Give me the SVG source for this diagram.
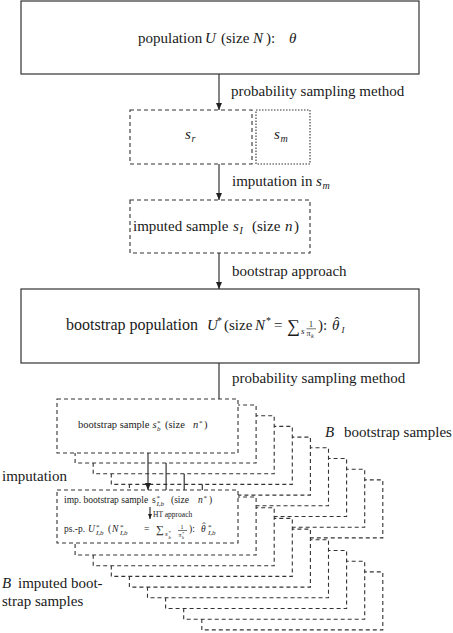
<svg xmlns="http://www.w3.org/2000/svg" width="453" height="633" viewBox="0 0 453 633" font-size="15">
<style>
.t{font-family:"Liberation Serif","DejaVu Serif",serif;fill:#1a1a1a}
.i{font-style:italic}
.box{fill:#fff;stroke:#333;stroke-width:1.2}
.dash{fill:#fff;stroke:#333;stroke-width:1.1;stroke-dasharray:4 3}
.dot{fill:#fff;stroke:#333;stroke-width:1.1;stroke-dasharray:1.5 1.5}
.conn{stroke:#333;stroke-width:1.2;fill:none}
.bar{stroke:#1a1a1a;stroke-width:0.6}
</style>
<defs>
<marker id="ah" markerWidth="7" markerHeight="6" refX="7" refY="3" orient="auto" markerUnits="userSpaceOnUse"><path d="M0,0 L7,3 L0,6 z" fill="#222"/></marker>
<marker id="ahs" markerWidth="5" markerHeight="4" refX="5" refY="2" orient="auto" markerUnits="userSpaceOnUse"><path d="M0,0 L5,2 L0,4 z" fill="#222"/></marker>
</defs>

<g id="population">
<rect class="box" x="21" y="1" width="398" height="73"/>
<text class="t" y="42.5"><tspan x="138">population</tspan><tspan x="205" class="i">U</tspan><tspan x="221">(size</tspan><tspan x="253" class="i">N</tspan><tspan x="266">):</tspan><tspan x="289" class="i">θ</tspan></text>
</g>

<g id="sample-r">
<rect class="dash" x="130" y="110" width="122" height="54"/>
<text class="t"><tspan x="185" y="139" class="i">s</tspan><tspan x="191.5" y="142" class="i" font-size="10">r</tspan></text>
</g>
<g id="sample-m">
<rect class="dot" x="256" y="110" width="54" height="54"/>
<text class="t"><tspan x="274" y="139" class="i">s</tspan><tspan x="280.5" y="142" class="i" font-size="10">m</tspan></text>
</g>

<g id="imputed-sample">
<rect class="dash" x="130" y="200" width="180" height="53"/>
<text class="t" y="231"><tspan x="133">imputed sample</tspan><tspan x="233" class="i">s</tspan><tspan x="239.5" y="234" class="i" font-size="10">I</tspan><tspan x="252" y="231">(size</tspan><tspan x="285" class="i">n</tspan><tspan x="294">)</tspan></text>
</g>

<g id="bootstrap-population">
<rect class="box" x="21" y="289" width="398" height="74"/>
<text class="t" y="330"><tspan x="66" font-size="16">bootstrap population</tspan><tspan x="207" class="i">U</tspan><tspan x="217" y="324" font-size="10">*</tspan><tspan x="224" y="330">(size</tspan><tspan x="255" class="i">N</tspan><tspan x="266" y="324" font-size="10">*</tspan><tspan x="274" y="330">=</tspan><tspan x="287" y="332" font-size="18">∑</tspan><tspan x="301" y="334" class="i" font-size="9">s</tspan></text>
<text class="t" x="311" y="327" font-size="8" text-anchor="middle">1</text>
<line class="bar" x1="306.5" y1="328.8" x2="316" y2="328.8"/>
<text class="t"><tspan x="306.5" y="336" font-size="8">π</tspan><tspan x="311" y="337.5" class="i" font-size="6">k</tspan></text>
<text class="t" y="330"><tspan x="318">):</tspan><tspan x="332" class="i">θ</tspan><tspan x="341.5" y="333" class="i" font-size="9">I</tspan></text>
<text class="t" x="337" y="327" font-size="15" text-anchor="middle">ˆ</text>
</g>

<g id="bootstrap-samples">
<rect class="dash" x="201.8" y="479.9" width="181" height="58"/>
<rect class="dash" x="183.7" y="469.2" width="181" height="58"/>
<rect class="dash" x="165.6" y="458.5" width="181" height="58"/>
<rect class="dash" x="147.5" y="447.8" width="181" height="58"/>
<rect class="dash" x="129.4" y="437.1" width="181" height="58"/>
<rect class="dash" x="111.3" y="426.4" width="181" height="58"/>
<rect class="dash" x="93.2" y="415.7" width="181" height="58"/>
<rect class="dash" x="75.1" y="405" width="181" height="58"/>
<g id="bootstrap-sample-1">
<rect class="dash" x="57" y="399" width="181" height="54"/>
<text class="t" font-size="10.5" y="428"><tspan x="78">bootstrap sample</tspan><tspan x="152.5" class="i">s</tspan><tspan x="157" y="424.5" font-size="7">*</tspan><tspan x="157" y="431" class="i" font-size="7">b</tspan><tspan x="165" y="428">(size</tspan><tspan x="193" class="i">n</tspan><tspan x="199" y="424.5" font-size="7">*</tspan><tspan x="204" y="428">)</tspan></text>
</g>
</g>

<g id="connectors">
<line class="conn" x1="219" y1="74" x2="219" y2="110" marker-end="url(#ah)"/>
<line class="conn" x1="219" y1="164" x2="219" y2="200" marker-end="url(#ah)"/>
<line class="conn" x1="219" y1="253" x2="219" y2="289" marker-end="url(#ah)"/>
<line class="conn" x1="219" y1="363" x2="219" y2="399"/>
<line class="conn" x1="148" y1="453" x2="148" y2="490" marker-end="url(#ah)"/>
<line class="conn" x1="166.1" y1="463" x2="166.1" y2="497"/>
<line class="conn" x1="184.2" y1="473.7" x2="184.2" y2="507.7"/>
<line class="conn" x1="202.3" y1="484.4" x2="202.3" y2="518.4"/>
<line class="conn" x1="220.4" y1="495.1" x2="220.4" y2="529.1"/>
<line class="conn" x1="238.5" y1="505.8" x2="238.5" y2="539.8"/>
<line class="conn" x1="256.6" y1="516.5" x2="256.6" y2="550.5"/>
<line class="conn" x1="274.7" y1="527.2" x2="274.7" y2="561.2"/>
<line class="conn" x1="292.8" y1="537.9" x2="292.8" y2="571.9"/>
</g>

<g id="imputed-bootstrap-samples">
<rect class="dash" x="201.8" y="571.9" width="181" height="58"/>
<rect class="dash" x="183.7" y="561.2" width="181" height="58"/>
<rect class="dash" x="165.6" y="550.5" width="181" height="58"/>
<rect class="dash" x="147.5" y="539.8" width="181" height="58"/>
<rect class="dash" x="129.4" y="529.1" width="181" height="58"/>
<rect class="dash" x="111.3" y="518.4" width="181" height="58"/>
<rect class="dash" x="93.2" y="507.7" width="181" height="58"/>
<rect class="dash" x="75.1" y="497" width="181" height="58"/>
<g id="imputed-bootstrap-sample-1">
<rect class="dash" x="57" y="490" width="181" height="53"/>
<text class="t" font-size="9.5" y="503"><tspan x="64">imp.</tspan><tspan x="83.5">bootstrap sample</tspan><tspan x="152">s</tspan><tspan x="156.5" y="499.5" font-size="7">*</tspan><tspan x="156.5" y="506" class="i" font-size="7">I,b</tspan><tspan x="171" y="503">(size</tspan><tspan x="198" class="i">n</tspan><tspan x="203.5" y="499.5" font-size="7">*</tspan><tspan x="209" y="503">)</tspan></text>
<line class="conn" x1="150" y1="507" x2="150" y2="519" stroke-width="0.9" marker-end="url(#ahs)"/>
<text class="t" x="153" y="516.5" font-size="7.5">HT approach</text>
<text class="t" font-size="9.5" y="532"><tspan x="64">ps.-p.</tspan><tspan x="88" class="i">U</tspan><tspan x="96" y="528.5" font-size="7">*</tspan><tspan x="96" y="535" class="i" font-size="7">I,b</tspan><tspan x="108" y="532">(</tspan><tspan x="112" class="i">N</tspan><tspan x="120" y="528.5" font-size="7">*</tspan><tspan x="120" y="535" class="i" font-size="7">I,b</tspan><tspan x="144" y="532">=</tspan><tspan x="156" y="533" font-size="11">∑</tspan><tspan x="165" y="536" class="i" font-size="7">s</tspan><tspan x="168.5" y="534" font-size="5">*</tspan><tspan x="168.5" y="539" class="i" font-size="5">b</tspan></text>
<text class="t" x="182" y="529" font-size="6" text-anchor="middle">1</text>
<line class="bar" x1="178" y1="530.5" x2="187" y2="530.5"/>
<text class="t"><tspan x="178.5" y="537" font-size="6">π</tspan><tspan x="182" y="535" font-size="4.5">*</tspan><tspan x="182" y="539" class="i" font-size="4.5">k</tspan></text>
<text class="t" font-size="9.5" y="532"><tspan x="189">):</tspan><tspan x="201" class="i">θ</tspan><tspan x="208" y="528.5" font-size="7">*</tspan><tspan x="208" y="535" class="i" font-size="7">I,b</tspan></text>
<text class="t" x="204" y="529.5" font-size="10" text-anchor="middle">ˆ</text>
</g>
</g>

<g id="labels">
<text class="t" x="231" y="96">probability sampling method</text>
<text class="t" y="186"><tspan x="232">imputation in</tspan><tspan x="316" class="i">s</tspan><tspan x="322.5" y="189" class="i" font-size="10">m</tspan></text>
<text class="t" x="232" y="276">bootstrap approach</text>
<text class="t" x="232" y="383">probability sampling method</text>
<text class="t" y="437"><tspan x="325" class="i">B</tspan><tspan x="344">bootstrap samples</tspan></text>
<text class="t" x="2" y="481">imputation</text>
<text class="t" y="588"><tspan x="2" class="i">B</tspan><tspan x="18">imputed boot-</tspan></text>
<text class="t" x="2" y="606">strap samples</text>
</g>
</svg>
